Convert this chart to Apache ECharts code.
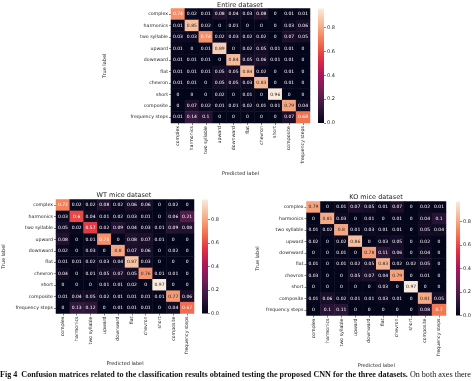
<!DOCTYPE html>
<html>
<head>
<meta charset="utf-8">
<script src="https://cdn.jsdelivr.net/npm/echarts@6/dist/echarts.min.js"></script>
<style>html,body{margin:0;padding:0;background:#fff;}#c{width:474px;height:381px;}</style>
</head>
<body>
<div id="c"></div>
<script>
const trueLabels = ['complex','harmonics','two syllable','upward','downward','flat','chevron','short','composite','frequency steps'];
const predictedLabels = ['complex','harmonics','two syllable','upward','downward','flat','chevron','short','composite','frequency steps'];
const colorbarTicks = [0, 0.2, 0.4, 0.6, 0.8];

const entireMatrix = [
  [0.74,0.02,0.01,0.08,0.04,0.03,0.08,0,0.01,0.01],
  [0.01,0.85,0.02,0,0.01,0,0,0,0.03,0.06],
  [0.03,0.03,0.74,0.02,0.03,0.02,0.02,0,0.07,0.05],
  [0.01,0,0.01,0.89,0,0.02,0.05,0.01,0.01,0],
  [0.01,0.01,0.01,0,0.84,0.05,0.06,0.01,0.01,0],
  [0.01,0.01,0.01,0.05,0.05,0.84,0.02,0,0.01,0],
  [0.01,0.01,0,0.05,0.05,0.03,0.83,0,0.01,0],
  [0,0,0,0.02,0,0.01,0,0.96,0,0],
  [0,0.07,0.02,0.01,0.01,0.02,0.01,0.01,0.79,0.04],
  [0.01,0.14,0.1,0,0,0,0,0,0.07,0.68]
];
const wtMatrix = [
  [0.72,0.02,0.02,0.08,0.02,0.06,0.06,0,0.02,0],
  [0.03,0.6,0.04,0.01,0.02,0.03,0.01,0,0.06,0.21],
  [0.05,0.02,0.57,0.02,0.09,0.04,0.03,0.01,0.09,0.08],
  [0.08,0,0.01,0.75,0,0.08,0.07,0.01,0,0],
  [0.02,0,0.03,0,0.8,0.07,0.06,0,0.02,0],
  [0.01,0.01,0.02,0.03,0.04,0.87,0.03,0,0,0],
  [0.04,0,0.01,0.05,0.07,0.05,0.76,0.01,0.01,0],
  [0,0,0,0.01,0.01,0.02,0,0.97,0,0],
  [0.01,0.04,0.05,0.02,0.01,0.01,0.01,0.01,0.77,0.06],
  [0,0.13,0.12,0,0.01,0.01,0.01,0,0.04,0.67]
];
const koMatrix = [
  [0.79,0,0.01,0.07,0.05,0.01,0.07,0,0.02,0.01],
  [0,0.81,0.03,0,0.01,0,0.01,0,0.04,0.1],
  [0.01,0.02,0.8,0.01,0.03,0.01,0.01,0,0.05,0.04],
  [0.02,0,0.02,0.86,0,0.03,0.05,0,0.02,0],
  [0,0,0.01,0,0.78,0.11,0.06,0,0.04,0],
  [0.01,0,0.01,0.02,0.05,0.83,0.02,0.02,0.05,0],
  [0.03,0,0,0.05,0.07,0.04,0.79,0,0.01,0],
  [0,0,0,0,0,0.03,0,0.97,0,0],
  [0.01,0.06,0.02,0.01,0.01,0.03,0.01,0,0.81,0.05],
  [0,0.1,0.11,0,0,0,0,0,0.08,0.7]
];

// rocket colormap anchor colours (evenly spaced 0..1)
const rocket = ['#03051a','#35193e','#701f57','#ad1759','#e13342','#f37651','#f6b48f','#faebdd'];
function hexToRgb(h){return [parseInt(h.slice(1,3),16),parseInt(h.slice(3,5),16),parseInt(h.slice(5,7),16)];}
function cmap(t){
  t=Math.max(0,Math.min(1,t));
  const n=rocket.length-1, p=t*n, i=Math.min(Math.floor(p),n-1), f=p-i;
  const a=hexToRgb(rocket[i]), b=hexToRgb(rocket[i+1]);
  return [0,1,2].map(k=>a[k]+(b[k]-a[k])*f);
}
function lum(rgb){
  const c=rgb.map(v=>{v/=255;return v<=0.03928?v/12.92:Math.pow((v+0.055)/1.055,2.4);});
  return 0.2126*c[0]+0.7152*c[1]+0.0722*c[2];
}

const panels = [
  {title:'Entire dataset', data:entireMatrix, left:171, top:8.5, width:139, height:114.5, cbLeft:318, titleX:240, titleY:1.5, yNameGap:64},
  {title:'WT mice dataset', data:wtMatrix, left:55, top:199.5, width:139, height:114, cbLeft:202, titleX:124, titleY:191.5, yNameGap:50},
  {title:'KO mice dataset', data:koMatrix, left:306.5, top:201.5, width:139.5, height:114, cbLeft:456, titleX:376, titleY:193.5, yNameGap:46}
];

const FONT = 'DejaVu Sans';
const option = {
  animation:false,
  backgroundColor:'#ffffff',
  title:[], grid:[], xAxis:[], yAxis:[], series:[], visualMap:[]
};

panels.forEach((p, idx) => {
  const vmax = Math.max(...p.data.flat());
  option.title.push({text:p.title, left:p.titleX, top:p.titleY, textAlign:'center', padding:0,
    textStyle:{fontFamily:FONT, fontSize:6.5, fontWeight:'normal', color:'#222'}});
  option.grid.push({left:p.left, top:p.top, width:p.width, height:p.height, containLabel:false});
  option.grid.push({left:p.cbLeft, top:p.top, width:6, height:p.height, containLabel:false});
  const gH = idx*2, gC = idx*2+1;
  option.xAxis.push({type:'category', gridIndex:gH, data:predictedLabels, position:'bottom',
    axisLine:{show:false}, axisTick:{show:true, length:2, alignWithLabel:true, lineStyle:{color:'#333', width:0.6}},
    axisLabel:{rotate:90, interval:0, fontFamily:FONT, fontSize:4.7, color:'#222', margin:3},
    name:'Predicted label', nameLocation:'middle', nameGap:48,
    nameTextStyle:{fontFamily:FONT, fontSize:5, color:'#222'}, splitLine:{show:false}});
  option.yAxis.push({type:'category', gridIndex:gH, data:trueLabels, inverse:true,
    axisLine:{show:false}, axisTick:{show:true, length:2, alignWithLabel:true, lineStyle:{color:'#333', width:0.6}},
    axisLabel:{interval:0, fontFamily:FONT, fontSize:4.7, color:'#222', margin:3},
    name:'True label', nameLocation:'middle', nameRotate:90, nameGap:p.yNameGap,
    nameTextStyle:{fontFamily:FONT, fontSize:5, color:'#222'}, splitLine:{show:false}});
  option.xAxis.push({type:'category', gridIndex:gC, data:['cb'], show:false, boundaryGap:true});
  option.yAxis.push({type:'value', gridIndex:gC, min:0, max:vmax, position:'right',
    axisLine:{show:false}, splitLine:{show:false},
    axisTick:{show:true, length:2, customValues:colorbarTicks, lineStyle:{color:'#333', width:0.6}},
    axisLabel:{customValues:colorbarTicks, formatter:v=>v.toFixed(1), fontFamily:FONT, fontSize:5, color:'#222', margin:3}});

  const cells = [];
  p.data.forEach((row,i)=>row.forEach((v,j)=>{
    const rgb = cmap(v/vmax);
    const txt = lum(rgb) > 0.408 ? '#262626' : '#ffffff';
    cells.push({value:[j,i,v], label:{color:txt}});
  }));
  const sIdx = option.series.length;
  option.series.push({type:'heatmap', xAxisIndex:gH, yAxisIndex:gH, data:cells,
    itemStyle:{borderWidth:0},
    label:{show:true, formatter:pr=>String(pr.value[2]), fontFamily:FONT, fontSize:4.5},
    emphasis:{disabled:true}});
  option.visualMap.push({type:'continuous', show:false, min:0, max:vmax, dimension:2,
    seriesIndex:sIdx, inRange:{color:rocket}});
  option.series.push({type:'bar', xAxisIndex:gC, yAxisIndex:gC, data:[vmax], barWidth:'100%', silent:true,
    itemStyle:{color:new echarts.graphic.LinearGradient(0,1,0,0, rocket.map((c,k)=>({offset:k/(rocket.length-1), color:c})))}});
});

option.title.push({
  text:'{b|Fig 4  Confusion matrices related to the classification results obtained testing the proposed CNN for the three datasets.}{n| On both axes there}',
  left:0, top:371, padding:0,
  textStyle:{rich:{
    b:{fontFamily:'Liberation Serif', fontWeight:'bold', fontSize:8.1, color:'#111'},
    n:{fontFamily:'Liberation Serif', fontWeight:'normal', fontSize:8.1, color:'#111'}
  }}
});

const chart = echarts.init(document.getElementById('c'), null, {renderer:'canvas'});
chart.setOption(option);
</script>
</body>
</html>
